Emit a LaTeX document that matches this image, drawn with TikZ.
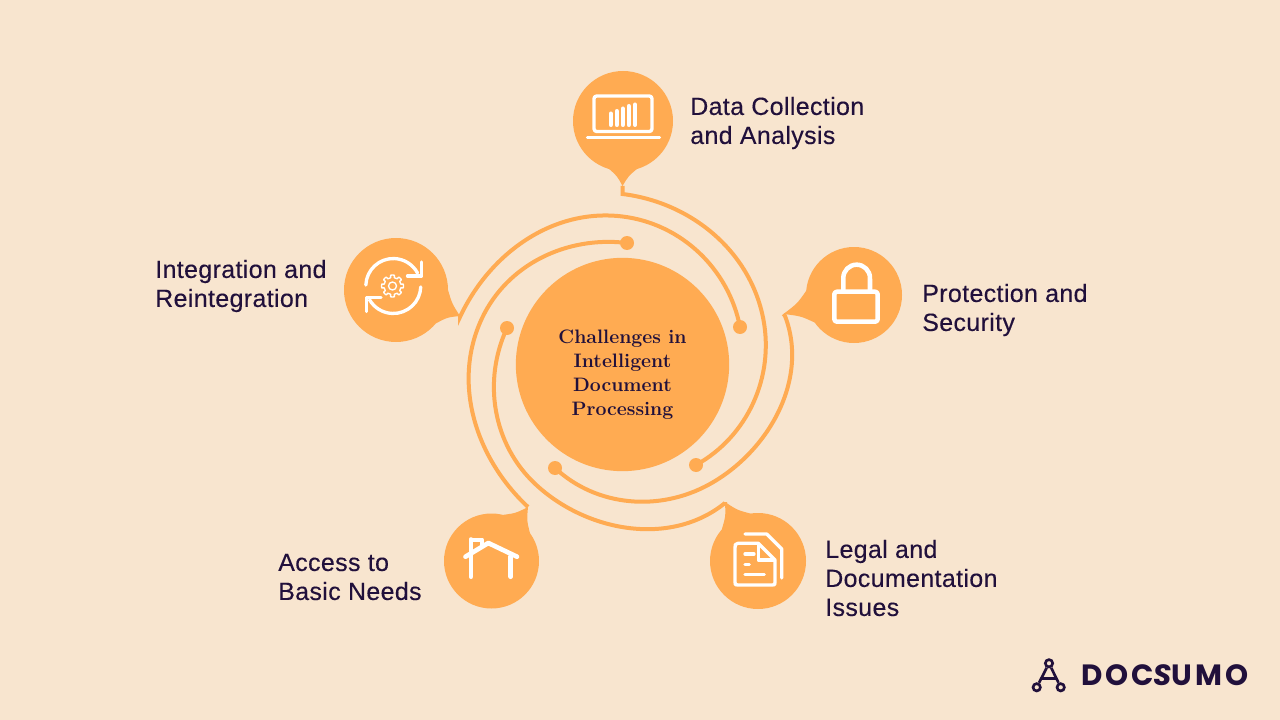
\documentclass[tikz,border=0pt]{standalone}
\usepackage{fontspec}
\usetikzlibrary{calc}
\newfontfamily\labfont[FakeBold=0.25,LetterSpace=1.5]{Liberation Sans}
\newfontfamily\logofont[LetterSpace=9.5]{Poppins}
\definecolor{bgc}{HTML}{F8E5CF}
\definecolor{org}{HTML}{FFAB52}
\definecolor{ink}{HTML}{21103B}
\tikzset{
  x=0.75pt,y=-0.75pt,
  bubble/.style={circle,fill=org,inner sep=0pt,outer sep=0pt},
  spiral/.style={draw=org,line width=3pt,line join=miter},
  dotend/.style={circle,fill=org,inner sep=0pt,minimum size=10.5pt},
  ico/.style={draw=white,line width=2.5pt,line cap=round,line join=round},
  lab/.style={text=ink,align=left,anchor=west,inner sep=0pt,font=\labfont\fontsize{18.7pt}{21.75pt}\selectfont},
  logoline/.style={draw=ink,line width=2pt}
}
\begin{document}
\begin{tikzpicture}
\useasboundingbox (0,0) rectangle (1280,720);
\fill[bgc] (0,0) rectangle (1280,720);

\node[bubble,minimum size=160pt] (main) at (622.5,364.5) {};
\node[text=ink,align=center,inner sep=0pt,font=\rmfamily\bfseries\addfontfeature{FakeBold=0.3}\fontsize{14.6pt}{18pt}\selectfont] (title) at (622.5,374.5) {Challenges in\\Intelligent\\Document\\Processing};

% bubbles with tails
\foreach \n/\cx/\cy/\r/\th/\tx/\ty/\sp in {
  a/623/121/50/-90/622.5/186/16,
  b/854/295/48/195/783.5/314/20,
  c/758/561/48/119/725/502/20,
  d/491.5/561/47.5/56/528/507/20,
  e/396/290/52/-20/460/316/20}{
  \node[bubble,minimum size={\r*1.5pt}] (b\n) at (\cx,\cy) {};
  \coordinate (t\n) at (\tx,\ty);
  \pgfmathsetmacro\aa{\th-\sp}
  \pgfmathsetmacro\ab{\th+\sp}
  \fill[org] (b\n.\aa) .. controls ($(b\n.\aa)!0.5!(t\n)!0.2!(b\n.\th)$) .. (t\n)
     .. controls ($(b\n.\ab)!0.5!(t\n)!0.2!(b\n.\th)$) .. (b\n.\ab) -- (b\n.center) -- cycle;
}

% spiral connectors
\foreach \n/\ang/\del/\sx/\sy/\dx/\dy in {
  a/90/0/622.5/194/696/465,
  b/18/10/785/316/555/468,
  c/-54/10/725/503/507/328,
  d/-126/0/528/507/627/243,
  e/162/0/460/317/740/327}{
  \coordinate (s\n) at (\sx,\sy);
  \node[dotend] (p\n) at (\dx,\dy) {};
  \pgfmathsetmacro\midang{\ang-72}
  \pgfmathsetmacro\outa{\ang-97+\del}
  \pgfmathsetmacro\ina{\midang-97+180}
  \pgfmathsetmacro\outb{\midang-97}
  \pgfmathsetmacro\inb{\ang-144-97+180}
  \coordinate (m\n) at ($(main.center)+(\midang:111pt)$);
  \draw[spiral] (t\n) -- (s\n) to[out=\outa,in=\ina,looseness=0.94] (m\n)
     to[out=\outb,in=\inb,looseness=0.94] (p\n.center);
}

% laptop icon
\draw[ico] [rounded corners=2pt] (594,96) rectangle (652,131.5);
\draw[ico] (587.5,137.7) -- (659.5,137.7);
\foreach \bx/\by in {610.7/113.5,616.7/111,622.7/108.5,628.7/106,635/104.5}
  \draw[ico,line width=3pt] (\bx,125) -- (\bx,\by);

% lock icon
\draw[ico,line width=3.4pt,rounded corners=2pt] (834.3,291.7) rectangle (877.7,321.7);
\draw[ico,line width=3.4pt] (843.3,291.7) -- (843.3,278) arc[start angle=180,end angle=0,radius=10pt] -- (870,291.7);

% refresh icon
\coordinate (rc) at (393.3,286);
\draw[ico] ($(rc)+(178:20.6pt)$) arc[start angle=178,end angle=28,radius=20.6pt];
\draw[ico] ($(rc)+(-2:20.6pt)$) arc[start angle=-2,end angle=-150,radius=20.6pt];
\draw[ico] (421.5,262) -- (421.5,276) -- (407.5,276);
\draw[ico] (381,297.5) -- (366.5,297.5) -- (366.5,311.5);
\begin{scope}[shift={(392.5,286)}]
\draw[draw=white,line width=1pt,line join=round] plot[domain=0:360,samples=145] ({\x}:{6.3pt+1.9pt*(cos(8*\x)>0)}) -- cycle;
\draw[draw=white,line width=1pt] (0,0) circle[radius=3pt];
\end{scope}

% house icon
\draw[ico,line width=3.5pt] (465.5,556.7) -- (488.3,543) -- (517,556.7);
\draw[ico,line width=3.5pt] (471,539.5) -- (471,576.7);
\draw[ico,line width=3pt] (471,539.5) -- (482,539.5) -- (482,546);
\draw[ico,line width=3.5pt] (510.7,556.7) -- (510.7,576.7);

% document icon
\draw[ico] (735,548) .. controls (735,545) and (735,543.3) .. (738,543.3) -- (758.3,543.3) -- (775,560) -- (775,582) .. controls (775,585) and (775,585) .. (772,585) -- (738,585) .. controls (735,585) and (735,585) .. (735,582) -- cycle;
\draw[ico] (758.3,544) -- (758.3,560) -- (774,560);
\draw[ico] (745,554) -- (754,554);
\draw[ico] (745,564.3) -- (749.3,564.3);
\draw[ico] (745,574.7) -- (764.3,574.7);
\draw[ico] (745,534) -- (766.7,534) -- (781.7,549) -- (781.7,578);

% labels
\node[lab] (la) at (690,123) {Data Collection\\and Analysis};
\node[lab] (lb) at (922,310) {Protection and\\Security};
\node[lab] (lc) at (825,578) {Legal and\\Documentation\\Issues};
\node[lab] (ld) at (278,577) {Access to\\Basic Needs};
\node[lab] (le) at (155,286) {Integration and\\Reintegration};

% logo
\node[circle,draw=ink,line width=2pt,inner sep=0pt,minimum size=5.5pt] (l1) at (1049,663.3) {};
\node[circle,draw=ink,line width=2pt,inner sep=0pt,minimum size=5.5pt] (l2) at (1036.7,687.3) {};
\node[circle,draw=ink,line width=2pt,inner sep=0pt,minimum size=5.5pt] (l3) at (1060.7,687.3) {};
\draw[logoline] (l1) -- (l2);
\draw[logoline] (l1) -- (l3);
\draw[logoline] ($(l1)!0.62!(l2)$) -- ($(l1)!0.62!(l3)$);
\node[text=ink,anchor=west,inner sep=0pt,font=\logofont\bfseries\fontsize{22pt}{24pt}\selectfont] (logo) at (1081,675.5) {DOC{\itshape S}UMO};
\end{tikzpicture}
\end{document}
